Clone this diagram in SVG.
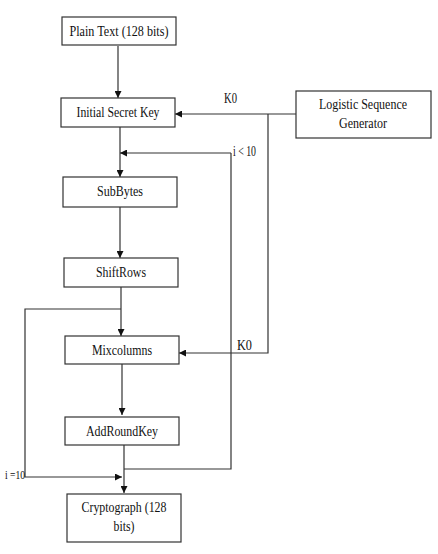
<svg xmlns="http://www.w3.org/2000/svg" width="438" height="554" viewBox="0 0 438 554">
<style>
.box{fill:#fff;stroke:#333;stroke-width:1.2}
.t{font-family:"Liberation Serif","DejaVu Serif","Times New Roman",serif;font-size:15px;fill:#111;text-anchor:middle}
.l{font-family:"Liberation Serif","DejaVu Serif","Times New Roman",serif;font-size:14px;fill:#111}
.c{fill:none;stroke:#333;stroke-width:1.2}
</style>
<defs>
<marker id="ah" viewBox="0 0 10 10" refX="10" refY="5" markerWidth="7" markerHeight="7" markerUnits="userSpaceOnUse" orient="auto">
<path d="M0,0 L10,5 L0,10 z" fill="#111"/>
</marker>
</defs>
<rect width="438" height="554" fill="#fff"/>
<g id="connectors">
<path class="c" d="M118,46 V98" marker-end="url(#ah)"/>
<path class="c" d="M296,114 H175" marker-end="url(#ah)"/>
<path class="c" d="M268,114 V353 H179" marker-end="url(#ah)"/>
<path class="c" d="M120,127 V177" marker-end="url(#ah)"/>
<path class="c" d="M231,153 H120" marker-end="url(#ah)"/>
<path class="c" d="M231,153 V469 H124"/>
<path class="c" d="M120,207 V258" marker-end="url(#ah)"/>
<path class="c" d="M121,287 V336" marker-end="url(#ah)"/>
<path class="c" d="M121,309 H25 V477 H122" marker-end="url(#ah)"/>
<path class="c" d="M122,364 V415" marker-end="url(#ah)"/>
<path class="c" d="M124,445 V493" marker-end="url(#ah)"/>
<text class="l" x="224" y="103" textLength="13" lengthAdjust="spacingAndGlyphs">K0</text>
<text class="l" x="233" y="156" textLength="23" lengthAdjust="spacingAndGlyphs">i &lt; 10</text>
<text class="l" x="237" y="350" textLength="15" lengthAdjust="spacingAndGlyphs">K0</text>
<text class="l" x="5" y="479" textLength="20" lengthAdjust="spacingAndGlyphs" style="font-size:12px">i =10</text>
</g>
<g id="plaintext">
<rect class="box" x="62" y="17" width="114" height="28"/>
<text class="t" x="119" y="36" textLength="99" lengthAdjust="spacingAndGlyphs">Plain Text (128 bits)</text>
</g>
<g id="initialkey">
<rect class="box" x="61" y="98" width="114" height="29"/>
<text class="t" x="118" y="117" textLength="83" lengthAdjust="spacingAndGlyphs">Initial Secret Key</text>
</g>
<g id="lsg">
<rect class="box" x="296" y="91" width="135" height="47"/>
<text class="t" x="363" y="109" textLength="88" lengthAdjust="spacingAndGlyphs">Logistic Sequence</text>
<text class="t" x="363" y="128" textLength="48" lengthAdjust="spacingAndGlyphs">Generator</text>
</g>
<g id="subbytes">
<rect class="box" x="63" y="177" width="114" height="30"/>
<text class="t" x="120" y="196" textLength="46" lengthAdjust="spacingAndGlyphs">SubBytes</text>
</g>
<g id="shiftrows">
<rect class="box" x="64" y="258" width="114" height="29"/>
<text class="t" x="121" y="277" textLength="50" lengthAdjust="spacingAndGlyphs">ShiftRows</text>
</g>
<g id="mixcolumns">
<rect class="box" x="65" y="336" width="114" height="28"/>
<text class="t" x="122" y="355" textLength="60" lengthAdjust="spacingAndGlyphs">Mixcolumns</text>
</g>
<g id="addroundkey">
<rect class="box" x="65" y="417" width="114" height="28"/>
<text class="t" x="122" y="436" textLength="72" lengthAdjust="spacingAndGlyphs">AddRoundKey</text>
</g>
<g id="cryptograph">
<rect class="box" x="67" y="494" width="114" height="48"/>
<text class="t" x="124" y="512" textLength="85" lengthAdjust="spacingAndGlyphs">Cryptograph (128</text>
<text class="t" x="124" y="531" textLength="21" lengthAdjust="spacingAndGlyphs">bits)</text>
</g>
</svg>
